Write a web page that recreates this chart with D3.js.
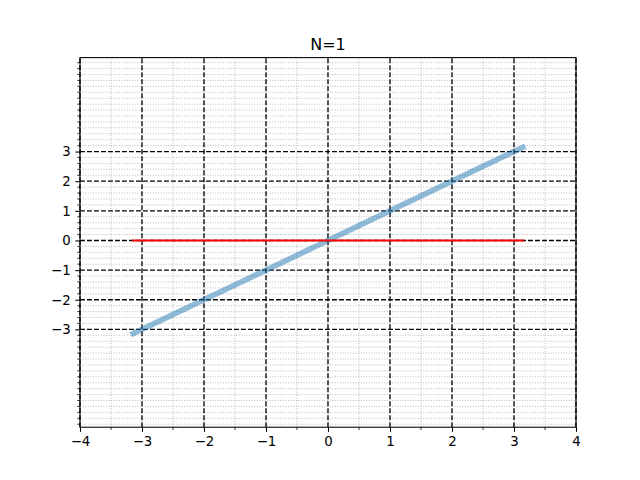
<!DOCTYPE html>
<html><head><meta charset="utf-8">
<script src="https://cdn.jsdelivr.net/npm/d3@7"></script>
<style>body{margin:0;background:#fff}svg{display:block}text{font-family:"DejaVu Sans",sans-serif;fill:#000}</style>
</head><body>
<script>
const title = "N=1";
const xDomain = [-4, 4];
const yDomain = [-6.3, 6.17];
const xMajorTicks = [-4, -3, -2, -1, 0, 1, 2, 3, 4];
const yMajorTicks = [-3, -2, -1, 0, 1, 2, 3];
const targetX = [-3.1416, 3.1416];
const targetY = [-3.1416, 3.1416];
const approxX = [-3.1416, 3.1416];
const approxY = [0, 0];

const W = 640, H = 480;
const m = {left: 80, right: 64, top: 57.6, bottom: 52.8};
const svg = d3.select("body").append("svg").attr("width", W).attr("height", H);
const x = d3.scaleLinear().domain(xDomain).range([m.left, W - m.right]);
const y = d3.scaleLinear().domain(yDomain).range([H - m.bottom, m.top]);

const xMinor = d3.range(-8, 9).map(d => d * 0.5).filter(d => d >= xDomain[0] && d <= xDomain[1] && !xMajorTicks.includes(d));
const yMinor = d3.range(-40, 41).map(d => +(d * 0.2).toFixed(2)).filter(d => d >= yDomain[0] && d <= yDomain[1] && !yMajorTicks.includes(d));

const g = svg.append("g");
g.selectAll(".vmin").data(xMinor).join("line")
  .attr("x1", d => x(d)).attr("x2", d => x(d)).attr("y1", y(yDomain[0])).attr("y2", y(yDomain[1]))
  .attr("stroke", "#aaa").attr("stroke-width", 0.8).attr("stroke-dasharray", "1,1.6");
g.selectAll(".hmin").data(yMinor).join("line")
  .attr("y1", d => y(d)).attr("y2", d => y(d)).attr("x1", x(xDomain[0])).attr("x2", x(xDomain[1]))
  .attr("stroke", "#aaa").attr("stroke-width", 0.8).attr("stroke-dasharray", "1,1.6");
g.selectAll(".vmaj").data(xMajorTicks).join("line")
  .attr("x1", d => x(d)).attr("x2", d => x(d)).attr("y1", y(yDomain[0])).attr("y2", y(yDomain[1]))
  .attr("stroke", "#000").attr("stroke-width", 1.33).attr("stroke-dasharray", "4.9,2.1");
g.selectAll(".hmaj").data(yMajorTicks).join("line")
  .attr("y1", d => y(d)).attr("y2", d => y(d)).attr("x1", x(xDomain[0])).attr("x2", x(xDomain[1]))
  .attr("stroke", "#000").attr("stroke-width", 1.33).attr("stroke-dasharray", "4.9,2.1");

const line = d3.line().x(d => x(d[0])).y(d => y(d[1]));
svg.append("path").datum(targetX.map((v, i) => [v, targetY[i]])).attr("d", line)
  .attr("fill", "none").attr("stroke", "#1f77b4").attr("stroke-opacity", 0.5).attr("stroke-width", 5.6)
  .attr("stroke-linecap", "square");
svg.append("path").datum(approxX.map((v, i) => [v, approxY[i]])).attr("d", line)
  .attr("fill", "none").attr("stroke", "#ff0000").attr("stroke-width", 2).attr("stroke-linecap", "square");

const fmt = d => d3.format("d")(d).replace("-", "\u2212");
const xAxis = d3.axisBottom(x).tickValues(xMajorTicks).tickSize(4.67).tickPadding(4.67).tickFormat(fmt);
const yAxis = d3.axisLeft(y).tickValues(yMajorTicks).tickSize(4.67).tickPadding(4.67).tickFormat(fmt);
const gx = svg.append("g").attr("transform", `translate(0,${H - m.bottom})`).call(xAxis);
const gy = svg.append("g").attr("transform", `translate(${m.left},0)`).call(yAxis);
[gx, gy].forEach(a => {
  a.select(".domain").remove();
  a.selectAll(".tick line").attr("stroke", "#000").attr("stroke-width", 1.07);
  a.selectAll(".tick text").attr("font-size", "13.33px").attr("font-family", "DejaVu Sans").attr("fill", "#000");
});
svg.append("g").selectAll("line").data(xMinor).join("line")
  .attr("x1", d => x(d)).attr("x2", d => x(d)).attr("y1", H - m.bottom).attr("y2", H - m.bottom + 2.67)
  .attr("stroke", "#000").attr("stroke-width", 0.8);
svg.append("g").selectAll("line").data(yMinor).join("line")
  .attr("y1", d => y(d)).attr("y2", d => y(d)).attr("x1", m.left).attr("x2", m.left - 2.67)
  .attr("stroke", "#000").attr("stroke-width", 0.8);

svg.append("rect").attr("x", m.left).attr("y", m.top).attr("width", W - m.left - m.right).attr("height", H - m.top - m.bottom)
  .attr("fill", "none").attr("stroke", "#000").attr("stroke-width", 1.07);

svg.append("text").attr("x", (m.left + W - m.right) / 2).attr("y", m.top - 8)
  .attr("text-anchor", "middle").attr("font-size", "16px").text(title);
</script>
</body></html>
